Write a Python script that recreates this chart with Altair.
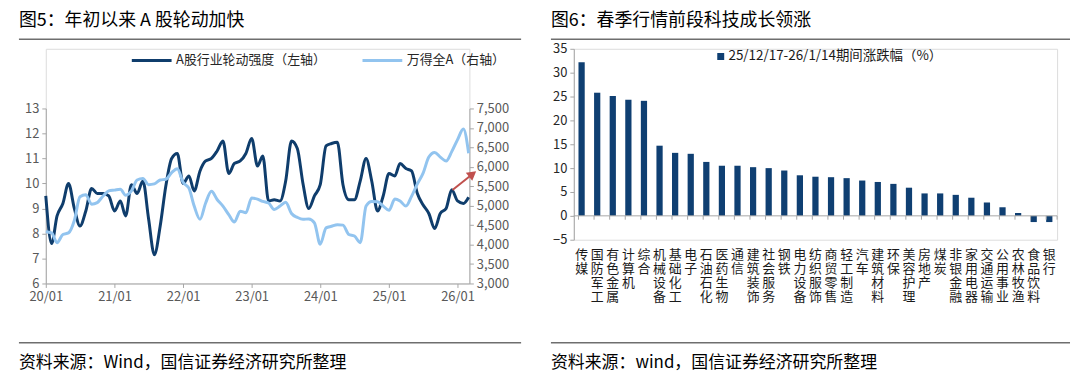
import altair as alt
import pandas as pd

FONT = "Noto Sans CJK SC"

# ---------------- Left chart data (monthly) ----------------
month_labels = [f"{y}-{m:02d}-01T00:00:00" for y in range(2020, 2027) for m in range(1, 13)][:75]

rotation = [
    9.5, 7.6, 8.7, 9.2, 10.0, 9.0, 8.3, 8.9, 9.8, 9.6, 9.6, 9.5,      # 2020
    8.9, 9.3, 8.7, 9.95, 9.6, 10.1, 8.6, 7.15, 8.3, 9.9, 11.0, 11.2,  # 2021
    10.0, 10.3, 9.7, 10.5, 10.9, 11.0, 11.3, 11.7, 10.4, 10.8, 10.9, 11.2,  # 2022
    11.8, 10.7, 11.1, 9.3, 9.35, 9.3, 10.1, 11.7, 11.4, 10.0, 9.0, 9.5,     # 2023
    9.95, 11.5, 11.6, 11.65, 9.95, 9.35, 9.35, 10.1, 11.0, 10.1, 8.9, 9.5,  # 2024
    10.4, 10.3, 10.8, 10.6, 10.5, 9.6, 9.15, 8.8, 8.2, 8.8, 9.0, 9.75,      # 2025
    9.3, 9.2, 9.45,                                                          # 2026
]

wind_a = [
    4330, 4300, 4050, 4260, 4300, 4620, 5230, 5280, 5040, 5080, 5250, 5380,  # 2020
    5400, 5420, 5270, 5380, 5660, 5700, 5540, 5560, 5660, 5680, 5850, 5950,  # 2021
    5600, 5450, 4990, 4650, 5070, 5370, 5160, 4990, 4770, 4580, 4860, 4820,  # 2022
    5200, 5170, 5110, 5070, 4900, 4990, 5090, 4800, 4700, 4650, 4660, 4560,  # 2023
    4010, 4430, 4470, 4510, 4500, 4260, 4220, 4050, 4990, 5110, 5100, 4990,  # 2024
    4880, 5170, 5120, 4990, 5240, 5560, 5830, 6250, 6370, 6250, 6150, 6390,  # 2025
    6700, 6970, 6350,                                                        # 2026
]

left_ticks_y = [6, 7, 8, 9, 10, 11, 12, 13]
right_ticks_y = [3000, 3500, 4000, 4500, 5000, 5500, 6000, 6500, 7000, 7500]
x_tick_years = [2020, 2021, 2022, 2023, 2024, 2025, 2026]

series_names = ["A股行业轮动强度（左轴）", "万得全A（右轴）"]

# red arrow annotation (start / head)
arrow_x = ["2025-12-05T00:00:00", "2026-03-22T00:00:00"]
arrow_y = [9.74, 10.38]

# ---------------- Right chart data ----------------
industries = ["传媒", "国防军工", "有色金属", "计算机", "综合", "机械设备", "基础化工", "电子",
              "石油石化", "医药生物", "通信", "建筑装饰", "社会服务", "钢铁", "电力设备", "纺织服饰",
              "商贸零售", "轻工制造", "汽车", "建筑材料", "环保", "美容护理", "房地产", "煤炭",
              "非银金融", "家用电器", "交通运输", "公用事业", "农林牧渔", "食品饮料", "银行"]
changes = [32.2, 25.8, 25.1, 24.3, 24.1, 14.7, 13.2, 13.0, 11.3, 10.5, 10.5, 10.2, 10.0, 9.5,
           8.5, 8.2, 8.1, 7.9, 7.4, 7.1, 6.7, 5.9, 4.7, 4.7, 4.4, 3.8, 2.8, 1.8, 0.6, -1.3, -1.3]
bar_series = "25/12/17-26/1/14期间涨跌幅（%）"
bar_ticks_y = [-5, 0, 5, 10, 15, 20, 25, 30, 35]

titles = ["图5：年初以来 A 股轮动加快", "图6：春季行情前段科技成长领涨"]
sources = ["资料来源：Wind，国信证券经济研究所整理", "资料来源：wind，国信证券经济研究所整理"]

# ---------------- Styling ----------------
DARK = "#0F3D6C"
LIGHT = "#92C4EF"
BAR = "#0F3F72"
RED = "#C0504D"
AXIS = "#A6A6A6"
LAB_GREY = "#595959"

# both panels share the same plot origin row (page y = 47)
LW, LH = 426, 236          # left panel: line plot occupies rows 60..236
LTOP = 60
RW, RH = 486, 192

left_df = pd.DataFrame({"date": month_labels, "rot": rotation, "wind": wind_a})
arrow_df = pd.DataFrame({"x0": [arrow_x[0]], "x1": [arrow_x[1]], "y0": [arrow_y[0]], "y1": [arrow_y[1]]})
bar_df = pd.DataFrame({"ind": industries, "chg": changes,
                       "series": [bar_series] * len(industries),
                       "lab": ["\n".join(list(s)) for s in industries]})

x_scale = alt.Scale(domain=[alt.DateTime(year=2020, month=1, date=1),
                            alt.DateTime(year=2026, month=3, date=5)])
x_axis = alt.Axis(values=[alt.DateTime(year=y, month=1, date=1) for y in x_tick_years],
                  format="%y/%m", title=None, grid=False, domainColor=AXIS, tickColor=AXIS,
                  tickSize=4, labelFontSize=13, labelColor=LAB_GREY, labelPadding=3,
                  labelFont=FONT, labelOverlap=False, labelFlush=False)
yl_axis = alt.Axis(values=left_ticks_y, title=None, grid=False, orient="left",
                   domainColor=AXIS, tickColor=AXIS, tickSize=4, labelFontSize=13,
                   labelColor=LAB_GREY, labelPadding=3, labelFont=FONT, labelOverlap=False,
                   labelFlush=False)
yl_scale = alt.Scale(domain=[6, 13], nice=False, zero=False, range=[LH, LTOP])

color_scale = alt.Scale(domain=series_names, range=[DARK, LIGHT])
left_legend = alt.Legend(title=None, orient="none", legendX=85, legendY=-10,
                         direction="horizontal", symbolType="stroke", symbolSize=1600,
                         symbolStrokeWidth=3, labelFontSize=13, labelColor="#262626",
                         labelOffset=3, columnPadding=30, labelLimit=0, labelFont=FONT)

dark = alt.Chart(left_df).transform_calculate(
    series=f"'{series_names[0]}'"
).mark_line(strokeWidth=3, interpolate="monotone").encode(
    x=alt.X("date:T", scale=x_scale, axis=x_axis),
    y=alt.Y("rot:Q", scale=yl_scale, axis=yl_axis),
    color=alt.Color("series:N", scale=color_scale, legend=left_legend),
)

arrow_line = alt.Chart(arrow_df).mark_rule(color=RED, strokeWidth=2).encode(
    x=alt.X("x0:T", axis=x_axis), x2="x1",
    y=alt.Y("y0:Q", axis=yl_axis), y2="y1",
)
arrow_head = alt.Chart(arrow_df).mark_point(shape="triangle-up", filled=True, size=110,
                                            angle=52, color=RED, opacity=1).encode(
    x=alt.X("x1:T", axis=x_axis),
    y=alt.Y("y1:Q", axis=yl_axis),
)

light = alt.Chart(left_df).transform_calculate(
    series=f"'{series_names[1]}'"
).mark_line(strokeWidth=3, interpolate="monotone").encode(
    x=alt.X("date:T", scale=x_scale, axis=x_axis),
    y=alt.Y("wind:Q", scale=alt.Scale(domain=[3000, 7500], nice=False, zero=False,
                                      range=[LH, LTOP]),
            axis=alt.Axis(values=right_ticks_y, title=None, grid=False, orient="right",
                          domainColor=AXIS, tickColor=AXIS, tickSize=4, labelFontSize=13,
                          labelColor=LAB_GREY, labelPadding=3, labelFont=FONT,
                          labelOverlap=False, labelFlush=False)),
    color=alt.Color("series:N", scale=color_scale, legend=left_legend),
)


def frame_layers(title, source, x0, x1, y_title, y_top, y_bottom, y_src):
    tdf = pd.DataFrame({"t": [title]})
    sdf = pd.DataFrame({"t": [source]})
    one = pd.DataFrame({"k": [0]})
    t = alt.Chart(tdf).mark_text(align="left", baseline="middle", fontSize=18,
                                 color="#000000", font=FONT).encode(
        x=alt.value(x0), y=alt.value(y_title), text="t:N")
    r1 = alt.Chart(one).mark_rule(color="#6E6E6E", strokeWidth=1.5).encode(
        x=alt.value(x0), x2=alt.value(x1), y=alt.value(y_top))
    r2 = alt.Chart(one).mark_rule(color="#6E6E6E", strokeWidth=1.5).encode(
        x=alt.value(x0), x2=alt.value(x1), y=alt.value(y_bottom))
    s = alt.Chart(sdf).mark_text(align="left", baseline="middle", fontSize=17,
                                 color="#000000", font=FONT).encode(
        x=alt.value(x0), y=alt.value(y_src), text="t:N")
    return [t, r1, r2, s]


left = alt.layer(
    alt.layer(dark, arrow_line, arrow_head),
    light,
    *frame_layers(titles[0], sources[0], -27, 478, -28.3, -9.5, 295.5, 316),
).resolve_scale(y="independent").properties(width=LW, height=LH)

# ---------------- Right chart ----------------
x_bar = alt.X("ind:N", sort=None,
              scale=alt.Scale(paddingInner=0.6, paddingOuter=0.3), axis=None)
yr_scale = alt.Scale(domain=[-5, 35], nice=False)
yr_axis = alt.Axis(values=bar_ticks_y, title=None, grid=False, domainColor=AXIS,
                   tickColor=AXIS, tickSize=4, labelFontSize=13,
                   labelColor="#262626", labelPadding=3, labelFont=FONT,
                   labelOverlap=False, labelFlush=False)

bars = alt.Chart(bar_df).mark_bar().encode(
    x=x_bar,
    y=alt.Y("chg:Q", scale=yr_scale, axis=yr_axis),
    color=alt.Color("series:N", scale=alt.Scale(domain=[bar_series], range=[BAR]),
                    legend=alt.Legend(title=None, orient="none", legendX=141, legendY=1,
                                      symbolType="square", symbolSize=49,
                                      labelFontSize=13.5, labelColor="#1A1A1A",
                                      labelOffset=1, labelLimit=0, labelFont=FONT)),
)

cat_labels = alt.Chart(bar_df).mark_text(baseline="top", align="center", lineBreak="\n",
                                         fontSize=13, lineHeight=14.3, color="#1A1A1A",
                                         font=FONT).encode(
    x=x_bar, y=alt.value(RH + 9), text="lab:N")

zero_df = pd.DataFrame({"k": [0]})
zero_line = alt.Chart(zero_df).mark_rule(color=AXIS, strokeWidth=1).encode(
    x=alt.value(0), x2=alt.value(RW), y=alt.YDatum(0, axis=yr_axis))
band_ticks = alt.Chart(bar_df).mark_rule(color=AXIS, strokeWidth=1).encode(
    x=alt.X("ind:N", sort=None, bandPosition=0, axis=None),
    y=alt.YDatum(0, axis=yr_axis), y2=alt.datum(-0.8))
end_tick = alt.Chart(zero_df).mark_rule(color=AXIS, strokeWidth=1).encode(
    x=alt.value(RW), y=alt.YDatum(0, axis=yr_axis), y2=alt.datum(-0.8))

right = alt.layer(
    bars, zero_line, band_ticks, end_tick, cat_labels,
    *frame_layers(titles[1], sources[1], -23, 499, -28.3, -9.5, 295.5, 316),
).properties(width=RW, height=RH)

chart = alt.hconcat(left, right, spacing=26).resolve_scale(
    color="independent"
).resolve_legend(color="independent").properties(
    padding={"left": 9, "top": 2, "right": 0, "bottom": 0}
).configure_view(stroke=None).configure_axis(labelOverlap=False).configure(font=FONT)

chart.save("out.html", embed_options={"renderer": "svg", "actions": False})
